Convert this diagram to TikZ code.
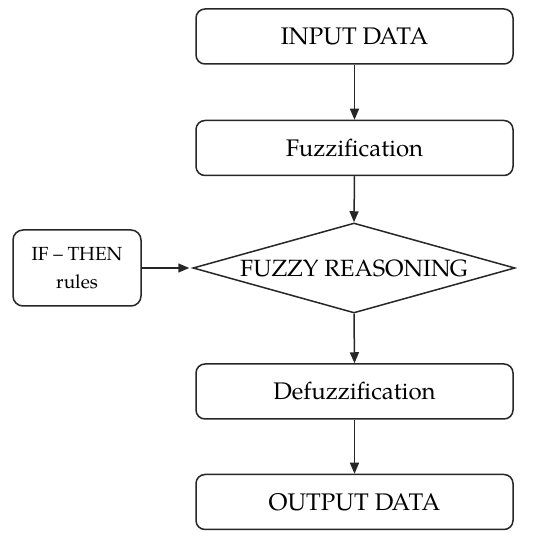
\documentclass[tikz,border=0pt]{standalone}
\usepackage{fontspec}
\setmainfont{TeX Gyre Pagella}
\usetikzlibrary{shapes.geometric,arrows.meta}
\tikzset{
  box/.style={draw=black!85, line width=1.5pt, rounded corners=9pt, minimum width=317pt, minimum height=55pt, inner sep=0pt, font=\fontsize{24}{28}\selectfont},
  rulebox/.style={draw=black!85, line width=1.5pt, rounded corners=10pt, minimum width=128pt, minimum height=76pt, inner sep=0pt, align=center, font=\fontsize{19}{28}\selectfont},
  decision/.style={draw=black!85, line width=1.5pt, diamond, aspect=3.58, minimum width=322pt, minimum height=90pt, inner sep=0pt, font=\fontsize{23.5}{28}\selectfont},
  arr/.style={draw=black!85, line width=1.5pt, -{Triangle[length=11pt,width=9pt]}}
}
\begin{document}
\begin{tikzpicture}[x=1pt,y=-1pt]
\useasboundingbox (0,0) rectangle (550,540);
\node[box] (in) at (354.5,36.5) {INPUT DATA};
\node[box] (fz) at (354.5,148) {Fuzzification};
\node[decision] (fr) at (354,268) {FUZZY REASONING};
\node[box] (dz) at (354.5,391.5) {Defuzzification};
\node[box] (out) at (354.5,502) {OUTPUT DATA};
\node[rulebox] (rules) at (77,268) {IF -- THEN\\rules};
\draw[arr] (in.south) -- (fz.north);
\draw[arr] (fz.south) -- (fr.north);
\draw[arr] (fr.south) -- (dz.north);
\draw[arr] (dz.south) -- (out.north);
\draw[arr] (rules.east) -- ([xshift=-3pt]fr.west);
\end{tikzpicture}
\end{document}
